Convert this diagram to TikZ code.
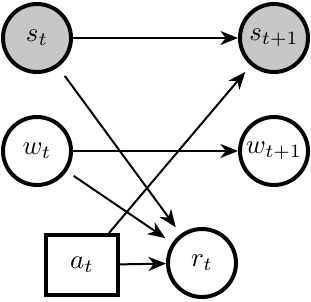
\documentclass[tikz,border=0pt]{standalone}
\usepackage{amsmath, amssymb}
\usepackage{graphicx}
\usepackage{tikz}
\usetikzlibrary{arrows.meta}
\newcommand{\lbl}[1]{\scalebox{2.3}{$#1$}}

\begin{document}
\begin{tikzpicture}[x=0.03cm, y=-0.03cm,
    statenode/.style={circle, draw, line width=3.4pt, fill=black!22, minimum size=2.04cm, inner sep=0pt},
    plainnode/.style={circle, draw, line width=3.4pt, fill=white, minimum size=2.04cm, inner sep=0pt},
    actbox/.style={rectangle, draw, line width=3.4pt, minimum width=2.16cm, minimum height=1.8cm, inner sep=0pt},
    arr/.style={-{Stealth[length=15pt, width=12pt, inset=4.5pt]}, line width=1.7pt}]
  \useasboundingbox (0,0) rectangle (311,301);
  % time slice t and t+1
  \node[statenode] (st) at (37,38) {\lbl{s_t}};
  \node[statenode] (st1) at (274,38) {\lbl{s_{t+1}}};
  \node[plainnode] (wt) at (37,151) {\lbl{w_t}};
  \node[plainnode] (wt1) at (274,151) {\lbl{w_{t+1}}};
  \node[actbox] (at) at (82,265) {\lbl{a_t}};
  \node[plainnode] (rt) at (202,263) {\lbl{r_t}};
  % transitions
  \draw[arr] (st) -- (st1);
  \draw[arr] (wt) -- (wt1);
  \draw[arr, shorten <=0.33cm, shorten >=0.25cm] (st) -- (rt);
  \draw[arr, shorten <=0.25cm, shorten >=0.25cm] (wt) -- (rt);
  \draw[arr, shorten >=0.25cm] (at) -- (st1);
  \draw[arr] (at) -- (rt);
\end{tikzpicture}
\end{document}
